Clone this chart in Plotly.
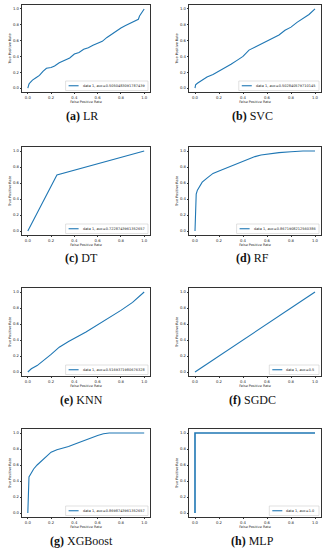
import plotly.graph_objects as go

# ---------------- data ----------------
lr_fpr = [0.0, 0.005, 0.01, 0.02, 0.04, 0.07, 0.10, 0.13, 0.16, 0.20, 0.23, 0.27, 0.32, 0.36, 0.40, 0.44, 0.48, 0.52, 0.56, 0.60, 0.64, 0.68, 0.72, 0.76, 0.80, 0.84, 0.88, 0.92, 0.95, 0.96, 0.98, 1.0]
lr_tpr = [0.0, 0.03, 0.05, 0.07, 0.10, 0.13, 0.16, 0.21, 0.25, 0.26, 0.28, 0.32, 0.35, 0.38, 0.43, 0.45, 0.49, 0.51, 0.54, 0.56, 0.59, 0.64, 0.68, 0.73, 0.76, 0.79, 0.82, 0.85, 0.87, 0.91, 0.95, 1.0]

svc_fpr = [0.0, 0.005, 0.02, 0.05, 0.10, 0.15, 0.20, 0.25, 0.30, 0.35, 0.40, 0.45, 0.50, 0.55, 0.60, 0.65, 0.70, 0.75, 0.80, 0.85, 0.90, 0.95, 1.0]
svc_tpr = [0.0, 0.04, 0.06, 0.09, 0.14, 0.17, 0.21, 0.25, 0.30, 0.35, 0.40, 0.48, 0.52, 0.55, 0.59, 0.63, 0.67, 0.73, 0.77, 0.83, 0.88, 0.93, 1.0]

dt_fpr = [0.0, 0.25, 1.0]
dt_tpr = [0.0, 0.70, 1.0]

rf_fpr = [0.0, 0.002, 0.005, 0.01, 0.02, 0.04, 0.06, 0.10, 0.15, 0.20, 0.25, 0.30, 0.35, 0.40, 0.45, 0.50, 0.55, 0.60, 0.70, 0.80, 0.90, 1.0]
rf_tpr = [0.0, 0.20, 0.35, 0.46, 0.51, 0.57, 0.61, 0.66, 0.72, 0.75, 0.78, 0.81, 0.84, 0.88, 0.90, 0.93, 0.95, 0.96, 0.98, 0.99, 1.0, 1.0]

knn_fpr = [0.0, 0.03, 0.08, 0.15, 0.20, 0.27, 0.35, 0.50, 0.65, 0.80, 0.90, 1.0]
knn_tpr = [0.0, 0.04, 0.08, 0.16, 0.22, 0.31, 0.38, 0.50, 0.63, 0.77, 0.87, 1.0]

sgdc_fpr = [0.0, 1.0]
sgdc_tpr = [0.0, 1.0]

xgb_fpr = [0.0, 0.002, 0.005, 0.01, 0.03, 0.05, 0.08, 0.12, 0.16, 0.20, 0.25, 0.30, 0.35, 0.40, 0.45, 0.50, 0.55, 0.60, 0.65, 0.70, 1.0]
xgb_tpr = [0.0, 0.25, 0.40, 0.45, 0.50, 0.55, 0.60, 0.65, 0.70, 0.76, 0.79, 0.81, 0.83, 0.86, 0.89, 0.92, 0.95, 0.97, 0.99, 1.0, 1.0]

mlp_fpr = [0.0, 0.0, 1.0]
mlp_tpr = [0.0, 1.0, 1.0]

panel_letters = ["(a)", "(b)", "(c)", "(d)", "(e)", "(f)", "(g)", "(h)"]
model_names = ["LR", "SVC", "DT", "RF", "KNN", "SGDC", "XGBoost", "MLP"]
auc_labels = ["0.5050483091787439", "0.502840579710145", "0.7228743961352657",
              "0.8671908212560386", "0.5169371980676328", "0.5",
              "0.8698743961352657", "1.0"]
tick_vals = [0.0, 0.2, 0.4, 0.6, 0.8, 1.0]
tick_text = ["0.0", "0.2", "0.4", "0.6", "0.8", "1.0"]

curves = [(lr_fpr, lr_tpr), (svc_fpr, svc_tpr), (dt_fpr, dt_tpr), (rf_fpr, rf_tpr),
          (knn_fpr, knn_tpr), (sgdc_fpr, sgdc_tpr), (xgb_fpr, xgb_tpr), (mlp_fpr, mlp_tpr)]

# ---------------- layout ----------------
W, H = 327, 550
COLS = [(22, 150), (189, 321)]
ROWS = [(5, 92), (147, 235), (288, 376), (429, 517)]
CAP_Y = [116, 258, 400, 541]
CAP_X = [82, 253]
BLUE = "#1f77b4"
AX = "#333333"

fig = go.Figure()
layout = dict(width=W, height=H, margin=dict(l=0, r=0, t=0, b=0),
              paper_bgcolor="white", plot_bgcolor="white", showlegend=False)
shapes, annotations = [], []

for i, (fx, ty) in enumerate(curves):
    r, c = divmod(i, 2)
    n = i + 1
    sx = "" if n == 1 else str(n)
    xname, yname = "x" + sx, "y" + sx
    x0, x1 = COLS[c]
    top, bot = ROWS[r]
    fig.add_trace(go.Scatter(x=fx, y=ty, mode="lines",
                             line=dict(color=BLUE, width=1.6 if i == 7 else 1.1),
                             xaxis=xname, yaxis=yname, showlegend=False,
                             name="data 1, auc=" + auc_labels[i]))
    common = dict(range=[-0.05, 1.05], tickvals=tick_vals, ticktext=tick_text,
                  ticks="outside", ticklen=1.5, tickwidth=0.5, tickcolor=AX,
                  tickfont=dict(size=3.8, family="DejaVu Sans", color="#222"),
                  showline=True, mirror=True, linecolor=AX, linewidth=0.6,
                  showgrid=False, zeroline=False, fixedrange=True)
    layout["xaxis" + sx] = dict(common, domain=[x0 / W, x1 / W], anchor=yname,
                                title=dict(text="False Positive Rate", standoff=1,
                                           font=dict(size=3.4, family="DejaVu Sans", color="#222")))
    layout["yaxis" + sx] = dict(common, domain=[1 - bot / H, 1 - top / H], anchor=xname,
                                title=dict(text="True Positive Rate", standoff=1,
                                           font=dict(size=3.4, family="DejaVu Sans", color="#222")))

    # legend box (lower right), drawn in axis-domain coordinates
    wpx = x1 - x0
    hpx = bot - top
    label = "data 1, auc=" + auc_labels[i]
    right = wpx - 2.0
    left = right - (17 + 2.18 * len(label))
    yb, yt = 1.5, 11.0
    dref = dict(xref=xname + " domain", yref=yname + " domain")
    shapes.append(dict(type="rect", x0=left / wpx, x1=right / wpx, y0=yb / hpx, y1=yt / hpx,
                       line=dict(color="#cccccc", width=0.6), fillcolor="rgba(255,255,255,0.8)",
                       layer="above", **dref))
    ym = (yb + yt) / 2 / hpx
    shapes.append(dict(type="line", x0=(left + 3) / wpx, x1=(left + 13) / wpx, y0=ym, y1=ym,
                       line=dict(color=BLUE, width=1.1), layer="above", **dref))
    annotations.append(dict(text=label, x=(left + 15) / wpx, y=ym, xanchor="left", yanchor="middle",
                            showarrow=False, font=dict(size=3.5, family="DejaVu Sans", color="#222"),
                            **dref))
    # caption
    annotations.append(dict(text="<b>" + panel_letters[i] + "</b> " + model_names[i],
                            x=CAP_X[c] / W, y=1 - CAP_Y[r] / H, xref="paper", yref="paper",
                            xanchor="center", yanchor="middle", showarrow=False,
                            font=dict(size=12, family="Liberation Serif", color="#111")))

layout["shapes"] = shapes
layout["annotations"] = annotations
fig.update_layout(**layout)
fig.write_html("out.html", config={"displayModeBar": False},
               post_script="document.body.style.margin='0px';document.body.style.overflow='hidden';")
